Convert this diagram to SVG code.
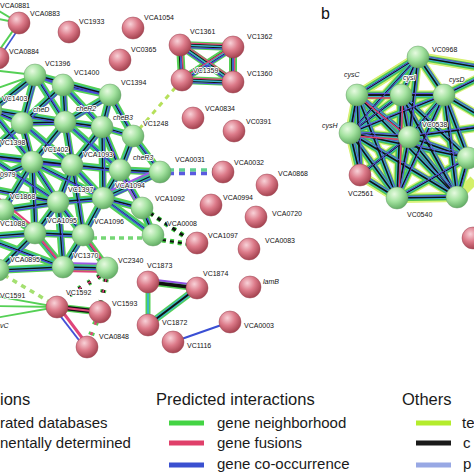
<svg xmlns="http://www.w3.org/2000/svg" xmlns:xlink="http://www.w3.org/1999/xlink" width="474" height="474" viewBox="0 0 474 474">
<style>
.t{font-family:"Liberation Sans",Arial,sans-serif;font-size:7px;fill:#111;paint-order:stroke;stroke:#fff;stroke-width:1.8px;stroke-linejoin:round}
.i{font-style:italic}
.lg{font-family:"Liberation Sans",Arial,sans-serif;font-size:15px;fill:#1a1a1a}
.hd{font-size:16.5px}
.g circle{fill:url(#gG);stroke:#6a9f6a;stroke-width:.5}
.p circle{fill:url(#gP);stroke:#9a4452;stroke-width:.5}
.ln line{fill:none}
</style>
<defs>
<radialGradient id="gG" cx="38%" cy="32%" r="70%">
<stop offset="0" stop-color="#e6fae0"/><stop offset=".5" stop-color="#a3e29f"/><stop offset="1" stop-color="#62ad64"/>
</radialGradient>
<radialGradient id="gP" cx="38%" cy="32%" r="70%">
<stop offset="0" stop-color="#f8d2d8"/><stop offset=".5" stop-color="#dc7a89"/><stop offset="1" stop-color="#a4424f"/>
</radialGradient>
<g id="LB">
<line x1="35" y1="75" x2="63" y2="85"/><line x1="35" y1="75" x2="-9" y2="110"/><line x1="35" y1="75" x2="22" y2="123"/><line x1="35" y1="75" x2="65" y2="122"/><line x1="35" y1="75" x2="110" y2="95"/>
<line x1="63" y1="85" x2="110" y2="95"/><line x1="63" y1="85" x2="22" y2="123"/><line x1="63" y1="85" x2="65" y2="122"/><line x1="63" y1="85" x2="102" y2="127"/>
<line x1="110" y1="95" x2="102" y2="127"/><line x1="110" y1="95" x2="65" y2="122"/><line x1="110" y1="95" x2="133" y2="136"/>
<line x1="-9" y1="110" x2="22" y2="123"/><line x1="-9" y1="110" x2="65" y2="122"/><line x1="-9" y1="110" x2="-14" y2="155"/><line x1="-9" y1="110" x2="32" y2="162"/>
<line x1="22" y1="123" x2="65" y2="122"/><line x1="22" y1="123" x2="-14" y2="155"/><line x1="22" y1="123" x2="32" y2="162"/><line x1="22" y1="123" x2="72" y2="165"/>
<line x1="65" y1="122" x2="102" y2="127"/><line x1="65" y1="122" x2="32" y2="162"/><line x1="65" y1="122" x2="72" y2="165"/><line x1="65" y1="122" x2="120" y2="170"/>
<line x1="102" y1="127" x2="133" y2="136"/><line x1="102" y1="127" x2="72" y2="165"/><line x1="102" y1="127" x2="120" y2="170"/><line x1="102" y1="127" x2="103" y2="198"/>
<line x1="133" y1="136" x2="120" y2="170"/><line x1="133" y1="136" x2="160" y2="172"/>
<line x1="-14" y1="155" x2="32" y2="162"/><line x1="-14" y1="155" x2="72" y2="165"/>
<line x1="32" y1="162" x2="72" y2="165"/><line x1="32" y1="162" x2="58" y2="202"/><line x1="32" y1="162" x2="3" y2="210"/><line x1="32" y1="162" x2="-24" y2="186"/><line x1="32" y1="162" x2="35" y2="233"/><line x1="32" y1="162" x2="103" y2="198"/>
<line x1="72" y1="165" x2="120" y2="170"/><line x1="72" y1="165" x2="58" y2="202"/><line x1="72" y1="165" x2="103" y2="198"/><line x1="72" y1="165" x2="83" y2="235"/>
<line x1="120" y1="170" x2="103" y2="198"/><line x1="120" y1="170" x2="160" y2="172"/><line x1="120" y1="170" x2="142" y2="208"/>
<line x1="58" y1="202" x2="103" y2="198"/><line x1="58" y1="202" x2="3" y2="210"/><line x1="58" y1="202" x2="35" y2="233"/><line x1="58" y1="202" x2="83" y2="235"/><line x1="58" y1="202" x2="63" y2="267"/>
<line x1="103" y1="198" x2="83" y2="235"/><line x1="103" y1="198" x2="142" y2="208"/><line x1="103" y1="198" x2="160" y2="172"/><line x1="103" y1="198" x2="153" y2="235"/>
<line x1="142" y1="208" x2="153" y2="235"/>
<line x1="3" y1="210" x2="35" y2="233"/><line x1="3" y1="210" x2="-17" y2="237"/><line x1="3" y1="210" x2="-24" y2="186"/><line x1="-24" y1="186" x2="-14" y2="155"/>
<line x1="-17" y1="237" x2="35" y2="233"/><line x1="35" y1="233" x2="83" y2="235"/><line x1="35" y1="233" x2="63" y2="267"/><line x1="35" y1="233" x2="-2" y2="270"/>
<line x1="83" y1="235" x2="63" y2="267"/><line x1="83" y1="235" x2="107" y2="268"/><line x1="63" y1="267" x2="107" y2="268"/><line x1="-2" y1="270" x2="63" y2="267"/>
<line x1="-24" y1="186" x2="58" y2="202"/><line x1="-14" y1="155" x2="58" y2="202"/><line x1="-17" y1="237" x2="63" y2="267"/>
</g>
<g id="RB">
<line x1="418" y1="57" x2="357" y2="95"/><line x1="418" y1="57" x2="401" y2="95"/><line x1="418" y1="57" x2="444" y2="95"/><line x1="418" y1="57" x2="409" y2="137"/><line x1="418" y1="57" x2="495" y2="70"/><line x1="418" y1="57" x2="350" y2="133"/>
<line x1="357" y1="95" x2="401" y2="95"/><line x1="357" y1="95" x2="444" y2="95"/><line x1="357" y1="95" x2="350" y2="133"/><line x1="357" y1="95" x2="409" y2="137"/><line x1="357" y1="95" x2="397" y2="198"/><line x1="357" y1="95" x2="457" y2="197"/>
<line x1="401" y1="95" x2="444" y2="95"/><line x1="401" y1="95" x2="350" y2="133"/><line x1="401" y1="95" x2="409" y2="137"/><line x1="401" y1="95" x2="397" y2="198"/><line x1="401" y1="95" x2="457" y2="197"/><line x1="401" y1="95" x2="468" y2="158"/>
<line x1="444" y1="95" x2="409" y2="137"/><line x1="444" y1="95" x2="468" y2="158"/><line x1="444" y1="95" x2="350" y2="133"/><line x1="444" y1="95" x2="397" y2="198"/><line x1="444" y1="95" x2="457" y2="197"/><line x1="444" y1="95" x2="495" y2="70"/><line x1="444" y1="95" x2="495" y2="125"/>
<line x1="350" y1="133" x2="409" y2="137"/><line x1="350" y1="133" x2="397" y2="198"/><line x1="350" y1="133" x2="457" y2="197"/><line x1="350" y1="133" x2="468" y2="158"/>
<line x1="409" y1="137" x2="468" y2="158"/><line x1="409" y1="137" x2="397" y2="198"/><line x1="409" y1="137" x2="457" y2="197"/><line x1="409" y1="137" x2="495" y2="125"/>
<line x1="397" y1="198" x2="457" y2="197"/><line x1="468" y1="158" x2="457" y2="197"/><line x1="468" y1="158" x2="397" y2="198"/>
<line x1="360" y1="175" x2="357" y2="95"/><line x1="360" y1="175" x2="350" y2="133"/><line x1="360" y1="175" x2="409" y2="137"/><line x1="360" y1="175" x2="397" y2="198"/>
</g>
<g id="SQ">
<line x1="180" y1="45" x2="233" y2="47"/><line x1="180" y1="45" x2="182" y2="80"/><line x1="180" y1="45" x2="233" y2="82"/><line x1="233" y1="47" x2="182" y2="80"/><line x1="233" y1="47" x2="233" y2="82"/><line x1="182" y1="80" x2="233" y2="82"/>
</g>
</defs>
<rect width="474" height="474" fill="#fff"/>
<g id="connectors" class="ln" stroke-linecap="butt">
<g stroke="#d4f06a" stroke-width="10" fill="none">
<polyline points="418,57 357,95 350,133 360,175 397,198 457,197 474,180"/>
<line x1="418" y1="57" x2="474" y2="66"/>
</g>
<use xlink:href="#RB" stroke="#d8f27a" stroke-width="9"/>
<use xlink:href="#RB" stroke="#4fc44f" stroke-width="6.5"/>
<use xlink:href="#RB" stroke="#38b2cc" stroke-width="3.6"/>
<use xlink:href="#RB" stroke="#111" stroke-width="1.6"/>
<use xlink:href="#RB" stroke="#5a50d8" stroke-width="1" transform="translate(1.8,-1.6)"/>
<g stroke="#e0406a" stroke-width="1.4">
<line x1="357" y1="98" x2="401" y2="98"/><line x1="352" y1="136" x2="409" y2="140"/><line x1="403" y1="95" x2="399" y2="198"/><line x1="359" y1="97" x2="411" y2="139"/>
</g>
<use xlink:href="#LB" stroke="#55d055" stroke-width="7.5"/>
<use xlink:href="#LB" stroke="#36b4b0" stroke-width="3.8"/>
<use xlink:href="#LB" stroke="#111" stroke-width="1.3"/>
<use xlink:href="#LB" stroke="#4a48d8" stroke-width="1.3" transform="translate(2,1.8)"/>
<g stroke="#e0447a" stroke-width="2.2">
<line x1="-24" y1="180" x2="35" y2="228"/><line x1="38" y1="236" x2="66" y2="270"/><line x1="86" y1="238" x2="110" y2="271"/><line x1="63" y1="271" x2="107" y2="272"/>
</g>
<g stroke="#9b5ae6" stroke-width="2">
<line x1="63" y1="263" x2="107" y2="264"/><line x1="103" y1="194" x2="160" y2="168"/><line x1="120" y1="174" x2="142" y2="212"/>
</g>
<g stroke="#55d055" stroke-width="2">
<line x1="19" y1="23" x2="-6" y2="8"/><line x1="19" y1="23" x2="-6" y2="18"/><line x1="17" y1="25" x2="-4" y2="55"/><line x1="35" y1="75" x2="-8" y2="70"/><line x1="35" y1="75" x2="-8" y2="90"/>
</g>
<line x1="21" y1="25" x2="-1" y2="58" stroke="#3f56d6" stroke-width="1.6"/>
<use xlink:href="#SQ" stroke="#55d055" stroke-width="8"/>
<use xlink:href="#SQ" stroke="#111" stroke-width="3.6"/>
<use xlink:href="#SQ" stroke="#3bb7c4" stroke-width="1.6"/>
<use xlink:href="#SQ" stroke="#4a48d8" stroke-width="1.3" transform="translate(0,2.4)"/>
<use xlink:href="#SQ" stroke="#e0447a" stroke-width="1.3" transform="translate(1.6,-2.2)"/>
<line x1="182" y1="80" x2="133" y2="136" stroke="#b6e05a" stroke-width="3" stroke-dasharray="5 5"/>
<line x1="168" y1="170" x2="214" y2="170" stroke="#5fcf8f" stroke-width="3.5" stroke-dasharray="6 5"/>
<line x1="168" y1="173.5" x2="214" y2="173.5" stroke="#5a5ae0" stroke-width="3.5" stroke-dasharray="6 5"/>
<line x1="150" y1="213" x2="190" y2="240" stroke="#3cc83c" stroke-width="5" stroke-dasharray="4 5"/>
<line x1="150" y1="213" x2="190" y2="240" stroke="#111" stroke-width="3" stroke-dasharray="4 5"/>
<line x1="162" y1="240" x2="188" y2="244" stroke="#3cc83c" stroke-width="5" stroke-dasharray="4 4"/>
<line x1="162" y1="240" x2="188" y2="244" stroke="#111" stroke-width="2" stroke-dasharray="4 4"/>
<line x1="92" y1="238" x2="144" y2="238" stroke="#75d775" stroke-width="3.5" stroke-dasharray="5 4"/>
<line x1="4" y1="275" x2="48" y2="301" stroke="#a4e070" stroke-width="3.5" stroke-dasharray="5 5"/>
<g stroke-dasharray="3 8">
<line x1="100" y1="276" x2="64" y2="298" stroke="#55d055" stroke-width="6"/>
<line x1="100" y1="276" x2="64" y2="298" stroke="#111" stroke-width="3.6"/>
<line x1="100" y1="276" x2="64" y2="298" stroke="#e0447a" stroke-width="1.6"/>
<line x1="106" y1="279" x2="101" y2="301" stroke="#55d055" stroke-width="6"/>
<line x1="106" y1="279" x2="101" y2="301" stroke="#111" stroke-width="3.6"/>
<line x1="106" y1="279" x2="101" y2="301" stroke="#e0447a" stroke-width="1.6"/>
<line x1="96" y1="322" x2="90" y2="338" stroke="#55d055" stroke-width="6"/>
<line x1="96" y1="322" x2="90" y2="338" stroke="#e0447a" stroke-width="2.5"/>
</g>
<line x1="57" y1="307" x2="100" y2="312" stroke="#55d055" stroke-width="7"/>
<line x1="57" y1="307" x2="100" y2="312" stroke="#111" stroke-width="4.4"/>
<line x1="57" y1="307" x2="100" y2="312" stroke="#e0447a" stroke-width="1.8"/>
<line x1="59" y1="307" x2="89" y2="347" stroke="#e0447a" stroke-width="3"/>
<line x1="55" y1="309" x2="85" y2="348" stroke="#4450d8" stroke-width="2"/>
<g stroke="#55d055" stroke-width="1.8">
<line x1="57" y1="307" x2="-5" y2="306"/><line x1="57" y1="307" x2="-5" y2="318"/><line x1="57" y1="307" x2="-5" y2="296"/>
</g>
<line x1="148" y1="282" x2="197" y2="288" stroke="#55d055" stroke-width="6.5"/>
<line x1="148" y1="282" x2="197" y2="288" stroke="#111" stroke-width="3.4"/>
<line x1="148" y1="279" x2="197" y2="285" stroke="#8c50e0" stroke-width="1.8"/>
<line x1="148" y1="282" x2="148" y2="325" stroke="#55d055" stroke-width="5"/>
<line x1="148" y1="282" x2="148" y2="325" stroke="#3bb7c4" stroke-width="2"/>
<line x1="148" y1="325" x2="197" y2="288" stroke="#55d055" stroke-width="7"/>
<line x1="148" y1="325" x2="197" y2="288" stroke="#3bb7c4" stroke-width="4.2"/>
<line x1="148" y1="325" x2="197" y2="288" stroke="#111" stroke-width="2"/>
<line x1="173" y1="342" x2="230" y2="322" stroke="#3a4fd4" stroke-width="2.2"/>
</g>
<g id="n-VCA0881"><text class="t" x="0" y="8">VCA0881</text></g>
<g id="n-VCA0883" class="p"><circle cx="19" cy="23" r="11"/><text class="t" x="30" y="16">VCA0883</text></g>
<g id="n-VC1933" class="p"><circle cx="69" cy="32" r="11"/><text class="t" x="79" y="24">VC1933</text></g>
<g id="n-VCA1054" class="p"><circle cx="133" cy="28" r="11"/><text class="t" x="144" y="20">VCA1054</text></g>
<g id="n-VCA0884" class="p"><circle cx="-2" cy="58" r="11"/><text class="t" x="9" y="54">VCA0884</text></g>
<g id="n-VC0365" class="p"><circle cx="120" cy="60" r="11"/><text class="t" x="131" y="52">VC0365</text></g>
<g id="n-VC1361" class="p"><circle cx="180" cy="45" r="11"/><text class="t" x="190" y="34">VC1361</text></g>
<g id="n-VC1362" class="p"><circle cx="233" cy="47" r="11"/><text class="t" x="247" y="39">VC1362</text></g>
<g id="n-VC1359" class="p"><circle cx="182" cy="80" r="11"/><text class="t" x="193" y="73">VC1359</text></g>
<g id="n-VC1360" class="p"><circle cx="233" cy="82" r="11"/><text class="t" x="247" y="76">VC1360</text></g>
<g id="n-VCA0834" class="p"><circle cx="193" cy="118" r="11"/><text class="t" x="205" y="111">VCA0834</text></g>
<g id="n-VC0391" class="p"><circle cx="234" cy="131" r="11"/><text class="t" x="246" y="124">VC0391</text></g>
<g id="n-VC1396" class="g"><circle cx="35" cy="75" r="11"/><text class="t" x="45" y="66">VC1396</text></g>
<g id="n-VC1400" class="g"><circle cx="63" cy="85" r="11"/><text class="t" x="74" y="75">VC1400</text></g>
<g id="n-VC1394" class="g"><circle cx="110" cy="95" r="11"/><text class="t" x="121" y="85">VC1394</text></g>
<g id="n-VC1403" class="g"><circle cx="-9" cy="110" r="11"/><text class="t" x="2" y="101">VC1403</text></g>
<g id="n-cheD" class="g"><circle cx="22" cy="123" r="11"/><text class="t i" x="33" y="112">cheD</text></g>
<g id="n-cheR2" class="g"><circle cx="65" cy="122" r="11"/><text class="t i" x="76" y="111">cheR2</text></g>
<g id="n-cheB3" class="g"><circle cx="102" cy="127" r="11"/><text class="t i" x="113" y="120">cheB3</text></g>
<g id="n-VC1248" class="g"><circle cx="133" cy="136" r="11"/><text class="t" x="143" y="126">VC1248</text></g>
<g id="n-VC1398" class="g"><circle cx="-14" cy="155" r="11"/><text class="t" x="0" y="145">VC1398</text></g>
<g id="n-VC1402" class="g"><circle cx="32" cy="162" r="11"/><text class="t" x="43" y="152">VC1402</text></g>
<g id="n-VCA1093" class="g"><circle cx="72" cy="165" r="11"/><text class="t" x="83" y="157">VCA1093</text></g>
<g id="n-cheR3" class="g"><circle cx="120" cy="170" r="11"/><text class="t i" x="133" y="160">cheR3</text></g>
<g id="n-VCA0031" class="g"><circle cx="160" cy="172" r="11"/><text class="t" x="175" y="162">VCA0031</text></g>
<g id="n-VC0979" class="g"><circle cx="-24" cy="186" r="11"/><text class="t" x="0" y="177">0979</text></g>
<g id="n-VC1397" class="g"><circle cx="58" cy="202" r="11"/><text class="t" x="68" y="192">VC1397</text></g>
<g id="n-VCA1094" class="g"><circle cx="103" cy="198" r="11"/><text class="t" x="115" y="188">VCA1094</text></g>
<g id="n-VC1868" class="g"><circle cx="3" cy="210" r="11"/><text class="t" x="10" y="199">VC1868</text></g>
<g id="n-VCA1092" class="g"><circle cx="142" cy="208" r="11"/><text class="t" x="155" y="201">VCA1092</text></g>
<g id="n-VC1088" class="g"><circle cx="-17" cy="237" r="11"/><text class="t" x="0" y="226">VC1088</text></g>
<g id="n-VCA1095" class="g"><circle cx="35" cy="233" r="11"/><text class="t" x="47" y="223">VCA1095</text></g>
<g id="n-VCA1096" class="g"><circle cx="83" cy="235" r="11"/><text class="t" x="94" y="224">VCA1096</text></g>
<g id="n-VCA0008" class="g"><circle cx="153" cy="235" r="11"/><text class="t" x="167" y="226">VCA0008</text></g>
<g id="n-VCA0895" class="g"><circle cx="-2" cy="270" r="11"/><text class="t" x="10" y="262">VCA0895</text></g>
<g id="n-VC1370" class="g"><circle cx="63" cy="267" r="11"/><text class="t" x="73" y="258">VC1370</text></g>
<g id="n-VC2340" class="g"><circle cx="107" cy="268" r="11"/><text class="t" x="118" y="263">VC2340</text></g>
<g id="n-VCA0032" class="p"><circle cx="223" cy="172" r="11"/><text class="t" x="234" y="165">VCA0032</text></g>
<g id="n-VCA0868" class="p"><circle cx="267" cy="185" r="11"/><text class="t" x="278" y="176">VCA0868</text></g>
<g id="n-VCA0994" class="p"><circle cx="211" cy="205" r="11"/><text class="t" x="223" y="200">VCA0994</text></g>
<g id="n-VCA0720" class="p"><circle cx="256" cy="217" r="11"/><text class="t" x="272" y="216">VCA0720</text></g>
<g id="n-VCA1097" class="p"><circle cx="197" cy="243" r="11"/><text class="t" x="208" y="238">VCA1097</text></g>
<g id="n-VCA0083" class="p"><circle cx="249" cy="249" r="11"/><text class="t" x="265" y="243">VCA0083</text></g>
<g id="n-VC1591"><text class="t" x="0" y="298">VC1591</text></g>
<g id="n-vC"><text class="t i" x="0" y="328">vC</text></g>
<g id="n-VC1592" class="p"><circle cx="57" cy="307" r="11"/><text class="t" x="66" y="295">VC1592</text></g>
<g id="n-VC1593" class="p"><circle cx="100" cy="312" r="11"/><text class="t" x="112" y="306">VC1593</text></g>
<g id="n-VCA0848" class="p"><circle cx="87" cy="347" r="11"/><text class="t" x="99" y="339">VCA0848</text></g>
<g id="n-VC1873" class="p"><circle cx="148" cy="282" r="11"/><text class="t" x="147" y="268">VC1873</text></g>
<g id="n-VC1874" class="p"><circle cx="197" cy="288" r="11"/><text class="t" x="203" y="276">VC1874</text></g>
<g id="n-lamB" class="p"><circle cx="250" cy="287" r="11"/><text class="t i" x="263" y="284">lamB</text></g>
<g id="n-VC1872" class="p"><circle cx="148" cy="325" r="11"/><text class="t" x="162" y="325">VC1872</text></g>
<g id="n-VCA0003" class="p"><circle cx="230" cy="322" r="11"/><text class="t" x="244" y="328">VCA0003</text></g>
<g id="n-VC1116" class="p"><circle cx="173" cy="342" r="11"/><text class="t" x="187" y="348">VC1116</text></g>
<text x="321" y="19" font-family="Liberation Sans, Arial, sans-serif" font-size="16" fill="#111">b</text>
<g id="n-VC0968" class="g"><circle cx="418" cy="57" r="11"/><text class="t" x="432" y="52">VC0968</text></g>
<g id="n-cysC" class="g"><circle cx="357" cy="95" r="11"/><text class="t i" x="344" y="77">cysC</text></g>
<g id="n-cysI" class="g"><circle cx="401" cy="95" r="11"/><text class="t i" x="403" y="80">cysI</text></g>
<g id="n-cysD" class="g"><circle cx="444" cy="95" r="11"/><text class="t i" x="449" y="82">cysD</text></g>
<g id="n-cysH" class="g"><circle cx="350" cy="133" r="11"/><text class="t i" x="322" y="128">cysH</text></g>
<g id="n-VC0538" class="g"><circle cx="409" cy="137" r="11"/><text class="t" x="422" y="127">VC0538</text></g>
<g id="n-R1" class="g"><circle cx="468" cy="158" r="11"/></g>
<g id="n-VC2561" class="p"><circle cx="360" cy="175" r="11"/><text class="t" x="348" y="196">VC2561</text></g>
<g id="n-VC0540" class="g"><circle cx="397" cy="198" r="11"/><text class="t" x="407" y="217">VC0540</text></g>
<g id="n-R2" class="g"><circle cx="457" cy="197" r="11"/></g>
<g id="n-R3" class="p"><circle cx="473" cy="238" r="11"/></g>
<g id="legend">
<text class="lg hd" x="0" y="405">ions</text>
<text class="lg" x="0" y="428">rated databases</text>
<text class="lg" x="0" y="448">nentally determined</text>
<text class="lg hd" x="156" y="405">Predicted interactions</text>
<line x1="169" y1="423" x2="204" y2="423" stroke="#44d444" stroke-width="5"/>
<line x1="169" y1="443" x2="204" y2="443" stroke="#e0406a" stroke-width="5"/>
<line x1="169" y1="465" x2="204" y2="465" stroke="#3a50d0" stroke-width="5"/>
<text class="lg" x="217" y="428">gene neighborhood</text>
<text class="lg" x="217" y="448">gene fusions</text>
<text class="lg" x="217" y="469">gene co-occurrence</text>
<text class="lg hd" x="402" y="405">Others</text>
<line x1="416" y1="423" x2="451" y2="423" stroke="#b4ec2c" stroke-width="5"/>
<line x1="416" y1="443" x2="451" y2="443" stroke="#1a1a1a" stroke-width="5"/>
<line x1="416" y1="465" x2="451" y2="465" stroke="#98a8e4" stroke-width="5"/>
<text class="lg" x="462" y="428">te</text>
<text class="lg" x="463" y="448">c</text>
<text class="lg" x="463" y="469">p</text>
</g>
</svg>
